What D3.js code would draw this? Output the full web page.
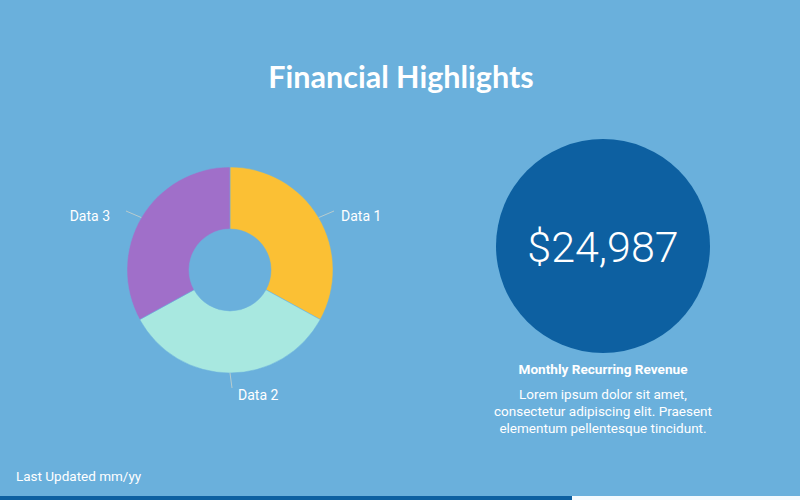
<!DOCTYPE html>
<html><head><meta charset="utf-8">
<script src="https://cdn.jsdelivr.net/npm/d3@7"></script>
<style>html,body{margin:0;padding:0;background:#6AB0DC;}svg{display:block;}</style>
</head><body>
<script>
const categories = ["Data 1", "Data 2", "Data 3"];
const values = [33, 34, 33];
const colors = ["#FBC034", "#A8E8E0", "#A06FC9"];
const bigValue = "$24,987";
const bigLabel = "Monthly Recurring Revenue";
const bodyLines = ["Lorem ipsum dolor sit amet,", "consectetur adipiscing elit. Praesent", "elementum pellentesque tincidunt."];

const W = 800, H = 500;
const svg = d3.select("body").append("svg").attr("width", W).attr("height", H);
svg.append("rect").attr("width", W).attr("height", H).attr("fill", "#6AB0DC");

svg.append("text").attr("x", 401).attr("y", 88).attr("text-anchor", "middle")
  .attr("font-family", "Lato").attr("font-weight", 700).attr("font-size", 30.5)
  .attr("fill", "#fff").text("Financial Highlights");

// donut
const cx = 230, cy = 270, rO = 103, rI = 41;
const g = svg.append("g").attr("transform", `translate(${cx},${cy})`);
const pie = d3.pie().sort(null).value(d => d.v);
const data = pie(categories.map((c, i) => ({c, v: values[i], col: colors[i]})));
const arc = d3.arc().innerRadius(rI).outerRadius(rO);
g.selectAll("path.s").data(data).join("path").attr("class", "s")
  .attr("d", arc).attr("fill", d => d.data.col)
  .attr("stroke", "#6AB0DC").attr("stroke-width", 0.5);

// labels with leader lines
const labelCfg = {
  "Data 1": {end: [104, -59], tx: [111, -49], anchor: "start"},
  "Data 2": {end: [2, 118], tx: [8, 130], anchor: "start"},
  "Data 3": {end: [-104, -59], tx: [-120, -49], anchor: "end"}
};
data.forEach(d => {
  const a = (d.startAngle + d.endAngle) / 2;
  const p0 = [rO * Math.sin(a), -rO * Math.cos(a)];
  const cfg = labelCfg[d.data.c];
  g.append("path").attr("d", `M${p0[0]},${p0[1]} L${cfg.end[0]},${cfg.end[1]}`)
    .attr("stroke", "rgba(215,215,200,0.7)").attr("stroke-width", 1).attr("fill", "none");
  g.append("text").attr("x", cfg.tx[0]).attr("y", cfg.tx[1]).attr("text-anchor", cfg.anchor)
    .attr("font-family", "Roboto").attr("font-size", 14).attr("fill", "#fff").text(d.data.c);
});

// big circle
const ccx = 603, ccy = 246, cr = 107;
svg.append("circle").attr("cx", ccx).attr("cy", ccy).attr("r", cr).attr("fill", "#0D60A1");
svg.append("text").attr("x", ccx).attr("y", ccy + 16).attr("text-anchor", "middle")
  .attr("font-family", "Roboto").attr("font-weight", 300).attr("font-size", 43)
  .attr("fill", "#fff").text(bigValue);
svg.append("text").attr("x", ccx).attr("y", 374).attr("text-anchor", "middle")
  .attr("font-family", "Roboto").attr("font-weight", 700).attr("font-size", 13.6)
  .attr("fill", "#fff").text(bigLabel);
bodyLines.forEach((t, i) => {
  svg.append("text").attr("x", ccx).attr("y", 399 + i * 17).attr("text-anchor", "middle")
    .attr("font-family", "Roboto").attr("font-size", 13.5).attr("fill", "#fff").text(t);
});

svg.append("text").attr("x", 16).attr("y", 481)
  .attr("font-family", "Roboto").attr("font-size", 13.5)
  .attr("fill", "#fff").text("Last Updated mm/yy");

// bottom bar
svg.append("rect").attr("x", 0).attr("y", 496).attr("width", 572).attr("height", 4).attr("fill", "#0D60A1");
svg.append("rect").attr("x", 572).attr("y", 496).attr("width", 228).attr("height", 4).attr("fill", "#F4FAFE");
</script>
</body></html>
